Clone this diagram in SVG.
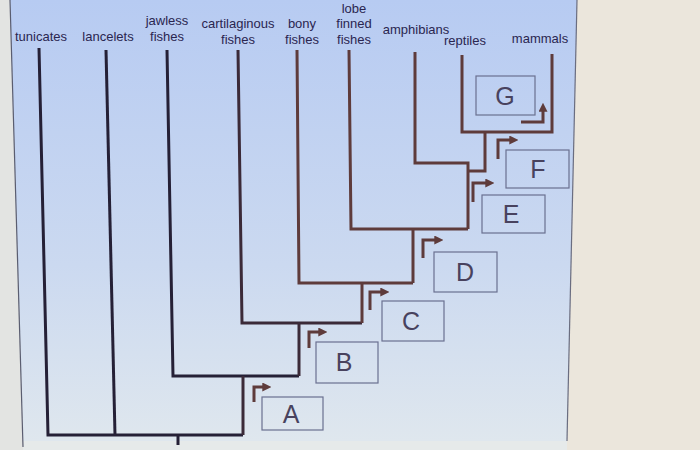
<svg xmlns="http://www.w3.org/2000/svg" width="700" height="450" viewBox="0 0 700 450">
<defs>
<linearGradient id="bg" x1="0" y1="0" x2="0" y2="1">
<stop offset="0" stop-color="#b7cbf2"/>
<stop offset="0.6" stop-color="#cbd9f0"/>
<stop offset="1" stop-color="#dfe7ee"/>
</linearGradient>
<marker id="ah" viewBox="0 0 10 10" refX="3" refY="5" markerWidth="9" markerHeight="9" markerUnits="userSpaceOnUse" orient="auto">
<path d="M0,0 L10,5 L0,10 z" fill="#5e3b3b"/>
</marker>
<style>
.lbl{font-family:"Liberation Sans",Arial,sans-serif;font-size:13px;fill:#2a2650;text-anchor:middle}
.dk{fill:none;stroke:#252036;stroke-width:3}
.md{fill:none;stroke:#3b2a38;stroke-width:3}
.br{fill:none;stroke:#5e3b3b;stroke-width:3}
.arr{fill:none;stroke:#5e3b3b;stroke-width:3;marker-end:url(#ah)}
.box{fill:none;stroke:#6a7090;stroke-width:1.2}
.let{font-family:"Liberation Sans",Arial,sans-serif;font-size:25px;fill:#48425e;text-anchor:middle}
</style>
</defs>
<rect x="0" y="0" width="700" height="450" fill="#ebe6dc"/>
<polygon points="0,0 10,0 23,450 0,450" fill="#e3e4e2"/>
<polygon points="10,0 577,0 567,441 23,441" fill="url(#bg)"/>
<polygon points="23,441 567,441 567,450 23,450" fill="#e6eaea"/>
<path d="M10,0 L23,447" stroke="#5a5d70" stroke-width="1.2" fill="none"/>
<path d="M577,0 L567,441" stroke="#6a6d80" stroke-width="1.2" fill="none"/>

<g id="labels">
<text class="lbl" x="41" y="41">tunicates</text>
<text class="lbl" x="108" y="41">lancelets</text>
<text class="lbl" x="167" y="25">jawless</text>
<text class="lbl" x="167" y="41">fishes</text>
<text class="lbl" x="238" y="28">cartilaginous</text>
<text class="lbl" x="238" y="44">fishes</text>
<text class="lbl" x="302" y="28">bony</text>
<text class="lbl" x="302" y="44">fishes</text>
<text class="lbl" x="354" y="13">lobe</text>
<text class="lbl" x="354" y="28">finned</text>
<text class="lbl" x="354" y="44">fishes</text>
<text class="lbl" x="416" y="34">amphibians</text>
<text class="lbl" x="465" y="45">reptiles</text>
<text class="lbl" x="540" y="43">mammals</text>
</g>

<g id="connectors">
<path class="dk" d="M39,48 L48,435 L243,435"/>
<path class="dk" d="M106,50 L115,435"/>
<path class="dk" d="M178,435 V445"/>
<path class="dk" d="M167,50 L173,376 L299,376"/>
<path class="md" d="M243,435 V376"/>
<path class="md" d="M238,50 L242,323 L362,323"/>
<path class="md" d="M299,376 V323"/>
<path class="br" d="M297,50 L299,283 L413,283"/>
<path class="br" d="M362,323 V283"/>
<path class="br" d="M349,50 L351,229 L468,229"/>
<path class="br" d="M413,283 V229"/>
<path class="br" d="M415,52 V163 H468 V229"/>
<path class="br" d="M468,171 H485 V132"/>
<path class="br" d="M462,55 V132 H552 V54"/>
</g>

<g id="A">
<path class="arr" d="M254,402 V387 H265"/>
<rect class="box" x="262" y="397" width="61" height="33"/>
<text class="let" x="291" y="423">A</text>
</g>
<g id="B">
<path class="arr" d="M309,348 V332 H321"/>
<rect class="box" x="316" y="342" width="62" height="41"/>
<text class="let" x="344" y="371">B</text>
</g>
<g id="C">
<path class="arr" d="M370,310 V292 H383"/>
<rect class="box" x="382" y="301" width="62" height="40"/>
<text class="let" x="411" y="330">C</text>
</g>
<g id="D">
<path class="arr" d="M423,258 V240 H437"/>
<rect class="box" x="434" y="252" width="63" height="40"/>
<text class="let" x="465" y="281">D</text>
</g>
<g id="E">
<path class="arr" d="M473,202 V183 H488"/>
<rect class="box" x="482" y="195" width="63" height="38"/>
<text class="let" x="511" y="223">E</text>
</g>
<g id="F">
<path class="arr" d="M498,159 V140 H512"/>
<rect class="box" x="506" y="150" width="63" height="38"/>
<text class="let" x="538" y="178">F</text>
</g>
<g id="G">
<rect class="box" x="476" y="76" width="59" height="39"/>
<text class="let" x="505" y="105">G</text>
<path class="arr" d="M521,122 H543 V109"/>
</g>
</svg>
